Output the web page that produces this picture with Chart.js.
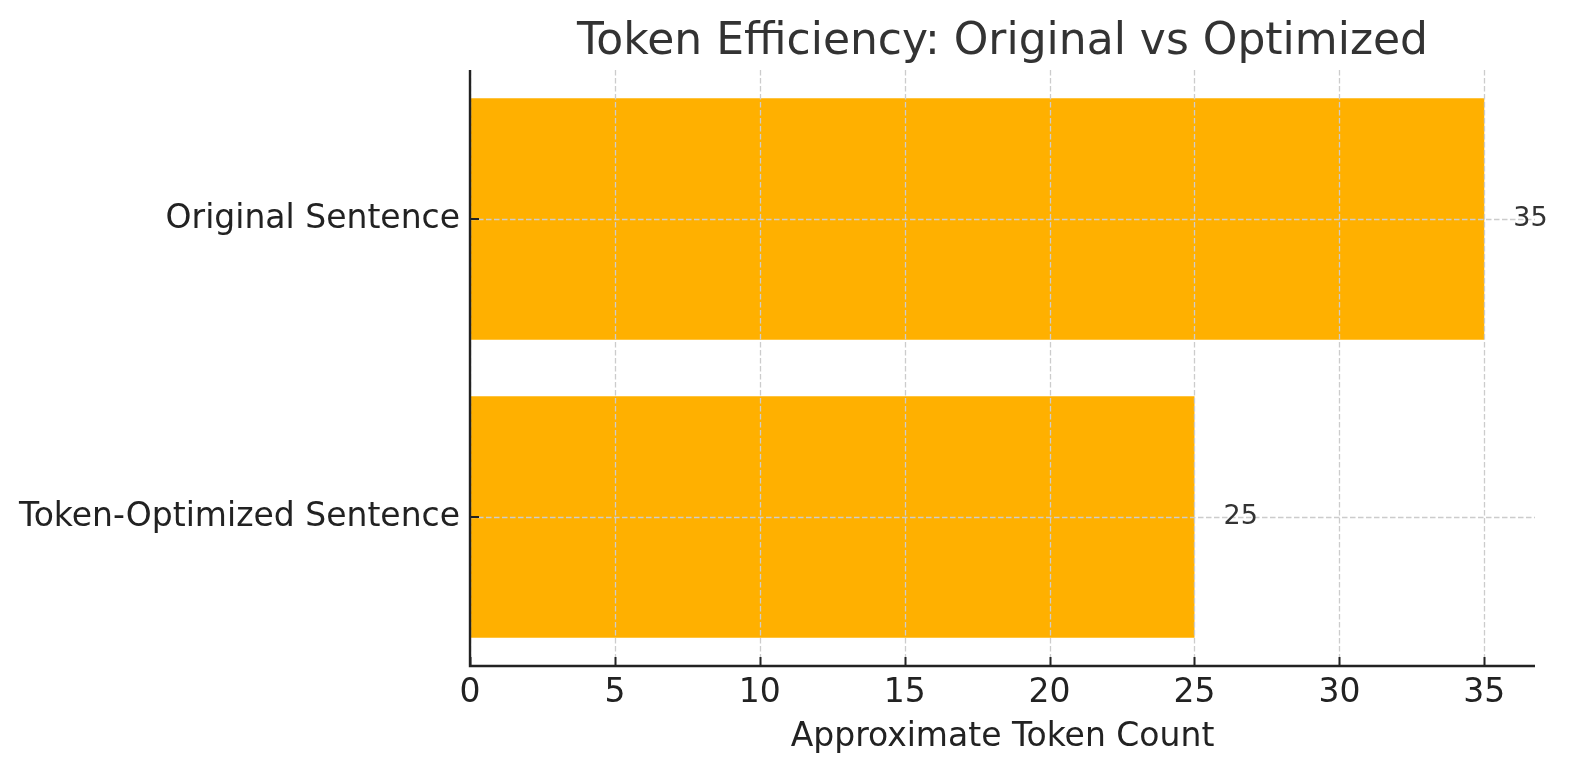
<!DOCTYPE html>
<html>
<head>
<meta charset="utf-8">
<script src="https://cdn.jsdelivr.net/npm/chart.js@4"></script>
<style>
html,body{margin:0;padding:0;background:#fff;overflow:hidden;width:1583px;height:780px;}
canvas{display:block;}
</style>
</head>
<body>
<canvas id="c" width="1583" height="780" style="width:1583px;height:780px;"></canvas>
<script>
const categories = ["Original Sentence", "Token-Optimized Sentence"];
const tokenCounts = [35, 25];
const xTickValues = [0, 5, 10, 15, 20, 25, 30, 35];
const chartTitle = "Token Efficiency: Original vs Optimized";
const xAxisTitle = "Approximate Token Count";

const FONT = "'DejaVu Sans', sans-serif";
const xMax = Math.max(...tokenCounts) * 1.05;

const overlay = {
  id: 'overlay',
  afterDatasetsDraw(chart) {
    const ctx = chart.ctx;
    const a = chart.chartArea;
    const xs = chart.scales.x, ys = chart.scales.y;
    ctx.save();
    // grid
    ctx.strokeStyle = '#cccccc';
    ctx.lineWidth = 1.3;
    ctx.setLineDash([5.5, 2.5]);
    xTickValues.forEach(v => {
      const px = Math.round(xs.getPixelForValue(v)) + 0.5;
      ctx.beginPath(); ctx.moveTo(px, a.top); ctx.lineTo(px, a.bottom); ctx.stroke();
    });
    categories.forEach((c, i) => {
      const py = Math.round(ys.getPixelForValue(i)) + 0.5;
      ctx.beginPath(); ctx.moveTo(a.left, py); ctx.lineTo(a.right, py); ctx.stroke();
    });
    ctx.setLineDash([]);
    // ticks (inward)
    ctx.strokeStyle = '#222222';
    ctx.lineWidth = 2;
    xTickValues.forEach(v => {
      const px = Math.round(xs.getPixelForValue(v)) + 0.5;
      ctx.beginPath(); ctx.moveTo(px, a.bottom); ctx.lineTo(px, a.bottom - 9); ctx.stroke();
    });
    categories.forEach((c, i) => {
      const py = Math.round(ys.getPixelForValue(i));
      ctx.beginPath(); ctx.moveTo(a.left, py); ctx.lineTo(a.left + 9, py); ctx.stroke();
    });
    // spines
    ctx.lineWidth = 2.4;
    ctx.beginPath();
    ctx.moveTo(a.left, a.top);
    ctx.lineTo(a.left, a.bottom);
    ctx.lineTo(a.right, a.bottom);
    ctx.stroke();
    // value labels
    ctx.fillStyle = '#333333';
    ctx.font = "27px " + FONT;
    ctx.textAlign = 'left';
    ctx.textBaseline = 'middle';
    tokenCounts.forEach((v, i) => {
      ctx.fillText(String(v), xs.getPixelForValue(v + 1), ys.getPixelForValue(i));
    });
    // title
    ctx.fillStyle = '#333333';
    ctx.font = "44px " + FONT;
    ctx.textAlign = 'center';
    ctx.textBaseline = 'alphabetic';
    ctx.fillText(chartTitle, (a.left + a.right) / 2, 54);
    ctx.restore();
  }
};

new Chart(document.getElementById('c'), {
  type: 'bar',
  data: {
    labels: categories,
    datasets: [{
      data: tokenCounts,
      backgroundColor: '#FFB000',
      borderWidth: 0,
      barPercentage: 0.81,
      categoryPercentage: 1.0
    }]
  },
  options: {
    indexAxis: 'y',
    responsive: false,
    maintainAspectRatio: false,
    animation: false,
    devicePixelRatio: 1,
    layout: { padding: { top: 70, right: 48, left: 0, bottom: 0 } },
    plugins: { legend: { display: false }, tooltip: { enabled: false }, title: { display: false } },
    scales: {
      x: {
        type: 'linear',
        min: 0,
        max: xMax,
        afterBuildTicks: s => { s.ticks = xTickValues.map(v => ({ value: v })); },
        afterFit: s => { s.height = 114; },
        grid: { display: false, drawTicks: false },
        border: { display: false },
        ticks: { color: '#222222', font: { family: FONT, size: 33 }, padding: 8, maxRotation: 0 },
        title: { display: true, text: xAxisTitle, color: '#222222', font: { family: FONT, size: 33 }, padding: { top: 0, bottom: 23 } }
      },
      y: {
        type: 'category',
        afterFit: s => { s.width = 470; },
        grid: { display: false, drawTicks: false },
        border: { display: false },
        ticks: { color: '#222222', font: { family: FONT, size: 33 }, padding: 10 }
      }
    }
  },
  plugins: [overlay]
});
</script>
</body>
</html>
